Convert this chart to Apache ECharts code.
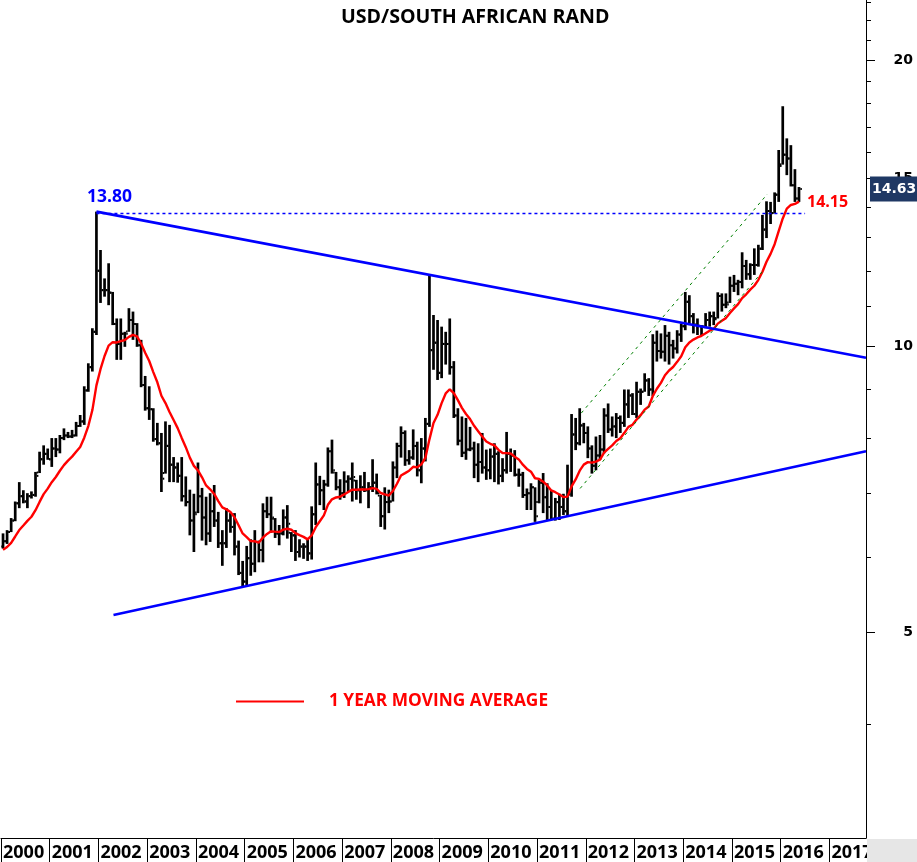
<!DOCTYPE html>
<html>
<head>
<meta charset="utf-8">
<title>USD/SOUTH AFRICAN RAND</title>
<script src="https://cdn.jsdelivr.net/npm/echarts@6/dist/echarts.min.js"></script>
<style>
  html, body { margin: 0; padding: 0; background: #fff; }
  #main { width: 917px; height: 862px; }
</style>
</head>
<body>
<div id="main"></div>
<script>
// monthly bars, Jan 2000 .. May 2016 (one row per year)
var startYear = 2000;
var opens = [
  6.15, 6.23, 6.37, 6.55, 6.83, 6.95, 6.86, 6.95, 6.97, 7.36, 7.60, 7.70,
  7.60, 7.80, 7.78, 8.00, 8.05, 8.03, 8.05, 8.24, 8.33, 8.98, 9.50, 10.35,
  12.00, 11.45, 11.45, 11.38, 10.55, 10.05, 10.30, 10.36, 10.65, 10.55, 10.02, 9.10,
  8.60, 8.58, 7.98, 7.90, 7.35, 7.85, 7.50, 7.45, 7.30, 6.95, 6.85, 6.55,
  6.68, 6.95, 6.60, 6.35, 6.70, 6.55, 6.20, 6.20, 6.55, 6.45, 6.15, 5.77,
  5.65, 5.98, 5.90, 6.22, 6.10, 6.70, 6.65, 6.58, 6.35, 6.35, 6.60, 6.36,
  6.32, 6.07, 6.15, 6.15, 6.05, 6.65, 7.15, 7.05, 7.15, 7.75, 7.36, 7.10,
  7.00, 7.20, 7.25, 7.22, 7.05, 7.10, 7.05, 7.10, 7.18, 6.96, 6.62, 6.85,
  6.86, 7.45, 7.85, 8.10, 7.58, 7.63, 7.85, 7.40, 7.80, 8.28, 9.90, 10.08,
  9.37, 10.05, 10.05, 9.50, 8.45, 7.95, 7.72, 7.78, 7.80, 7.50, 7.55, 7.45,
  7.40, 7.65, 7.70, 7.30, 7.40, 7.70, 7.67, 7.32, 7.32, 6.97, 7.00, 7.10,
  6.85, 7.18, 6.93, 6.77, 6.58, 6.85, 6.77, 6.70, 6.98, 8.07, 7.90, 8.25,
  8.10, 7.80, 7.48, 7.67, 7.78, 8.45, 8.17, 8.23, 8.40, 8.30, 8.68, 8.87,
  8.48, 8.95, 8.95, 9.20, 9.00, 10.08, 9.88, 9.86, 10.25, 10.02, 9.94, 10.28,
  10.49, 11.13, 10.75, 10.53, 10.50, 10.48, 10.65, 10.75, 10.70, 11.29, 11.05, 11.11,
  11.57, 11.63, 11.68, 12.14, 11.90, 12.17, 12.17, 12.66, 13.26, 13.87, 13.80, 14.43,
  15.53, 15.90, 15.75, 14.76, 14.30
];
var highs = [
  6.35, 6.40, 6.59, 6.86, 7.19, 7.05, 7.00, 7.03, 7.37, 7.74, 7.86, 7.80,
  8.00, 8.00, 8.06, 8.19, 8.12, 8.16, 8.32, 8.46, 9.07, 9.59, 10.44, 13.85,
  12.62, 11.78, 12.22, 11.40, 10.69, 10.69, 10.35, 10.96, 10.87, 10.57, 10.15, 9.30,
  9.07, 8.60, 8.30, 8.10, 8.33, 8.26, 7.64, 7.54, 7.64, 7.29, 7.06, 6.99,
  7.54, 7.09, 6.94, 7.00, 7.14, 6.69, 6.40, 6.75, 6.67, 6.67, 6.24, 5.94,
  6.16, 6.26, 6.40, 6.24, 6.83, 6.94, 6.94, 6.59, 6.48, 6.73, 6.80, 6.37,
  6.40, 6.26, 6.20, 6.28, 6.78, 7.54, 7.30, 7.23, 7.82, 7.97, 7.37, 7.24,
  7.38, 7.31, 7.54, 7.23, 7.31, 7.37, 7.19, 7.60, 7.34, 6.97, 7.10, 7.06,
  7.56, 7.91, 8.23, 8.15, 7.77, 8.17, 7.93, 8.00, 8.40, 11.88, 10.78, 10.65,
  10.48, 10.35, 10.69, 9.64, 8.60, 8.43, 8.40, 8.22, 7.93, 7.90, 8.10, 7.78,
  7.80, 7.90, 7.75, 7.62, 8.12, 7.80, 7.77, 7.43, 7.37, 7.08, 7.17, 7.10,
  7.23, 7.35, 7.17, 7.05, 6.92, 6.99, 6.99, 7.50, 8.48, 8.40, 8.60, 8.30,
  8.23, 7.86, 8.03, 8.06, 8.60, 8.70, 8.43, 8.50, 8.45, 9.00, 9.00, 8.92,
  9.17, 9.02, 9.36, 9.25, 10.29, 10.38, 10.31, 10.52, 10.35, 10.15, 10.39, 10.56,
  11.40, 11.31, 10.83, 10.69, 10.52, 10.83, 10.87, 10.87, 11.39, 11.36, 11.36, 11.83,
  11.88, 11.74, 12.55, 12.32, 12.22, 12.67, 12.78, 13.74, 14.20, 14.18, 14.51, 16.08,
  17.88, 16.54, 16.27, 15.35, 14.70
];
var lows = [
  6.12, 6.19, 6.37, 6.54, 6.75, 6.83, 6.75, 6.91, 6.94, 7.35, 7.50, 7.59,
  7.46, 7.64, 7.71, 7.96, 8.00, 8.00, 8.03, 8.22, 8.26, 8.95, 9.40, 10.27,
  11.10, 11.27, 11.04, 10.52, 9.67, 9.67, 9.98, 10.35, 10.15, 9.98, 9.05, 8.55,
  8.36, 7.93, 7.86, 7.02, 7.34, 7.19, 7.19, 7.18, 6.86, 6.78, 6.32, 6.07,
  6.67, 6.24, 6.17, 6.22, 6.45, 6.13, 5.87, 6.13, 6.36, 6.02, 5.74, 5.58,
  5.60, 5.73, 5.78, 5.92, 5.92, 6.59, 6.36, 6.28, 6.17, 6.32, 6.27, 6.07,
  5.94, 5.99, 5.97, 5.94, 5.96, 6.48, 6.80, 6.72, 7.11, 7.34, 7.05, 6.89,
  6.92, 7.02, 6.86, 6.89, 6.83, 7.02, 6.75, 7.02, 6.98, 6.45, 6.41, 6.67,
  6.86, 7.26, 7.63, 7.48, 7.50, 7.59, 7.29, 7.17, 7.56, 8.22, 9.44, 9.21,
  9.25, 9.56, 9.33, 8.40, 7.86, 7.64, 7.59, 7.75, 7.26, 7.19, 7.34, 7.23,
  7.24, 7.19, 7.15, 7.19, 7.34, 7.37, 7.29, 7.11, 6.92, 6.72, 6.72, 6.53,
  6.83, 6.67, 6.56, 6.56, 6.55, 6.56, 6.64, 6.62, 6.94, 7.77, 7.86, 7.90,
  7.62, 7.34, 7.40, 7.59, 7.71, 8.10, 8.03, 8.00, 8.10, 8.22, 8.40, 8.46,
  8.40, 8.67, 8.95, 8.86, 8.86, 9.63, 9.70, 9.63, 9.56, 9.70, 9.82, 10.10,
  10.39, 10.52, 10.31, 10.27, 10.27, 10.44, 10.48, 10.52, 10.69, 10.87, 10.96, 11.10,
  11.40, 11.31, 11.50, 11.74, 11.74, 11.88, 12.12, 12.62, 12.99, 13.44, 13.79, 14.18,
  15.52, 15.13, 14.72, 14.18, 14.18
];
var closes = [
  6.23, 6.37, 6.55, 6.83, 6.95, 6.86, 6.95, 6.97, 7.30, 7.60, 7.70, 7.60,
  7.80, 7.78, 8.00, 8.05, 8.03, 8.05, 8.24, 8.33, 8.98, 9.50, 10.35, 12.00,
  11.45, 11.45, 11.38, 10.55, 10.05, 10.30, 10.30, 10.65, 10.55, 10.02, 9.10, 8.60,
  8.58, 7.98, 7.90, 7.25, 7.85, 7.50, 7.45, 7.30, 6.95, 6.85, 6.55, 6.65,
  6.95, 6.60, 6.35, 6.70, 6.55, 6.20, 6.20, 6.55, 6.45, 6.15, 5.77, 5.65,
  5.98, 5.90, 6.22, 6.10, 6.70, 6.65, 6.60, 6.35, 6.35, 6.60, 6.50, 6.32,
  6.07, 6.15, 6.15, 6.05, 6.65, 7.15, 7.05, 7.15, 7.75, 7.40, 7.10, 7.00,
  7.20, 7.25, 7.28, 7.05, 7.10, 7.05, 7.10, 7.18, 7.00, 6.62, 6.85, 6.86,
  7.45, 7.85, 8.10, 7.58, 7.63, 7.85, 7.40, 7.80, 8.28, 9.90, 10.08, 9.37,
  10.05, 10.05, 9.50, 8.45, 7.95, 7.72, 7.78, 7.80, 7.50, 7.55, 7.45, 7.40,
  7.65, 7.70, 7.30, 7.40, 7.70, 7.67, 7.32, 7.32, 6.97, 7.00, 7.10, 6.62,
  7.18, 6.93, 6.77, 6.58, 6.85, 6.77, 6.70, 6.98, 8.07, 7.90, 8.25, 8.10,
  7.80, 7.48, 7.67, 7.78, 8.45, 8.17, 8.23, 8.40, 8.30, 8.68, 8.87, 8.48,
  8.95, 8.95, 9.20, 9.00, 10.08, 9.88, 9.86, 10.25, 10.02, 9.94, 10.28, 10.49,
  11.13, 10.75, 10.53, 10.50, 10.48, 10.65, 10.75, 10.67, 11.29, 11.05, 11.06, 11.57,
  11.63, 11.68, 12.14, 11.90, 12.17, 12.17, 12.66, 13.26, 13.87, 13.80, 14.43, 15.47,
  15.90, 15.75, 14.76, 14.30, 14.63
];

// 1 year (12 month) exponential average, seeded with the value at the left edge
var maPeriod = 12;
var maSeed = 6.08;
var maLastLabel = '14.15';
var lastLabel = '14.63';
var peakLabel = '13.80';

// trend lines: [month index, price] anchors
var upperTrend = [[23.5, 13.85], [213, 9.72]];
var lowerTrend = [[27.7, 5.21], [213, 7.75]];
var peakLevel = [[23.5, 13.80], [198.0, 13.80]];
var channelTop = [[142.9, 8.50], [188.7, 14.45]];
var channelBottom = [[142.6, 7.08], [187.8, 12.02]];

// price axis (log scale)
var yMinPrice = 3.035, yMaxPrice = 23.13;
var tickPrices = [4, 5, 6, 7, 8, 9, 10, 11, 12, 13, 14, 15, 16, 17, 18, 19, 20, 21, 22, 23];
var labelPrices = [5, 10, 15, 20];
var monthsShown = 213;

function lg(v) { return Math.log(v) / Math.LN10; }

var bars = [];
for (var i = 0; i < closes.length; i++) {
  bars.push([i + 0.5, lg(opens[i]), lg(highs[i]), lg(lows[i]), lg(closes[i])]);
}
var ma = [];
var e = maSeed, k = 2 / (maPeriod + 1);
for (var j = 0; j < closes.length; j++) {
  e = e + k * (closes[j] - e);
  ma.push([j + 0.5, lg(e)]);
}
function seg(p, style) {
  return [{ coord: [p[0][0], lg(p[0][1])], lineStyle: style }, { coord: [p[1][0], lg(p[1][1])] }];
}

function renderBar(params, api) {
  var x = api.value(0);
  var o = api.coord([x, api.value(1)]);
  var h = api.coord([x, api.value(2)]);
  var l = api.coord([x, api.value(3)]);
  var c = api.coord([x, api.value(4)]);
  var w = 2.7;
  return {
    type: 'group',
    children: [
      { type: 'rect', shape: { x: h[0] - w / 2, y: h[1], width: w, height: Math.max(l[1] - h[1], 1) }, style: { fill: '#000' } },
      { type: 'rect', shape: { x: o[0] - w / 2 - 1.5, y: o[1] - 1, width: 1.5, height: 2 }, style: { fill: '#000' } },
      { type: 'rect', shape: { x: c[0] + w / 2, y: c[1] - 1, width: 1.5, height: 2 }, style: { fill: '#000' } }
    ]
  };
}

var myChart = echarts.init(document.getElementById('main'));
var font = '"DejaVu Sans", Verdana, sans-serif';
var font2 = '"Open Sans", "DejaVu Sans", sans-serif';
var gridBox = { left: -3, right: 51, top: 0, bottom: 24 };
var option = {
  backgroundColor: '#fff',
  animation: false,
  title: {
    text: 'USD/SOUTH AFRICAN RAND',
    left: 341,
    top: 7,
    padding: 0,
    textStyle: { fontFamily: font2, fontWeight: 'bold', fontSize: 19.6, color: '#000' }
  },
  legend: {
    data: [{ name: '1 YEAR MOVING AVERAGE', icon: 'rect' }],
    left: 236,
    top: 693,
    padding: 0,
    itemWidth: 68,
    itemHeight: 2.2,
    textStyle: { fontFamily: font2, fontWeight: 'bold', fontSize: 17.3, color: '#ff0000', padding: [0, 0, 0, 20] }
  },
  grid: [gridBox, gridBox],
  xAxis: [{
    type: 'value',
    gridIndex: 0,
    min: 0,
    max: monthsShown,
    interval: 12,
    splitLine: { show: false },
    axisLine: { onZero: false, lineStyle: { color: '#000', width: 1 } },
    axisTick: { show: true, length: 24, lineStyle: { color: '#000' } },
    axisLabel: {
      showMaxLabel: false,
      align: 'left',
      margin: 6,
      padding: [0, 0, 0, 2],
      fontFamily: font2,
      fontWeight: 'bold',
      fontSize: 18,
      color: '#000',
      formatter: function (v) { return String(startYear + v / 12); }
    }
  }, {
    type: 'value',
    gridIndex: 1,
    min: 0,
    max: monthsShown,
    show: false
  }],
  yAxis: [{
    type: 'value',
    gridIndex: 0,
    position: 'right',
    min: lg(yMinPrice),
    max: lg(yMaxPrice),
    splitLine: { show: false },
    axisLine: { show: true, onZero: false, lineStyle: { color: '#000', width: 1 } },
    axisTick: { show: true, length: 5, customValues: tickPrices.map(lg), lineStyle: { color: '#000' } },
    axisLabel: { show: false }
  }, {
    type: 'value',
    gridIndex: 1,
    position: 'right',
    min: lg(yMinPrice),
    max: lg(yMaxPrice),
    splitLine: { show: false },
    axisLine: { show: false, onZero: false },
    axisTick: { show: true, length: 9, customValues: labelPrices.map(lg), lineStyle: { color: '#000' } },
    axisLabel: {
      customValues: labelPrices.map(lg),
      align: 'right',
      margin: 47,
      fontFamily: font,
      fontWeight: 'bold',
      fontSize: 14,
      color: '#000',
      formatter: function (v) { return String(Math.round(Math.pow(10, v))); }
    }
  }],
  series: [{
    name: 'bars',
    type: 'custom',
    renderItem: renderBar,
    data: bars,
    encode: { x: 0, y: [1, 2, 3, 4] },
    clip: true,
    z: 2
  }, {
    name: '1 YEAR MOVING AVERAGE',
    type: 'line',
    data: ma,
    symbol: 'none',
    showSymbol: false,
    itemStyle: { color: '#ff0000' },
    lineStyle: { color: '#ff0000', width: 2.4 },
    z: 4,
    markPoint: {
      silent: true,
      symbol: 'rect',
      symbolSize: 0,
      label: { show: true, position: 'right', distance: 8, formatter: maLastLabel, color: '#ff0000', fontFamily: font2, fontWeight: 'bold', fontSize: 16 },
      data: [{ coord: [closes.length - 0.5, lg(parseFloat(maLastLabel))] }]
    }
  }, {
    name: 'trend',
    type: 'line',
    data: [],
    z: 3,
    markLine: {
      silent: true,
      symbol: ['none', 'none'],
      label: { show: false },
      data: [
        seg(upperTrend, { color: '#0000ff', width: 2.6, type: 'solid' }),
        seg(lowerTrend, { color: '#0000ff', width: 2.6, type: 'solid' }),
        seg(peakLevel, { color: '#0000ff', width: 1.4, type: [3, 3] }),
        seg(channelTop, { color: '#008000', width: 1, type: [3, 4] }),
        seg(channelBottom, { color: '#008000', width: 1, type: [3, 4] })
      ]
    },
    markPoint: {
      silent: true,
      symbol: 'rect',
      symbolSize: 0,
      data: [{
        coord: [peakLevel[0][0], lg(peakLevel[0][1])],
        label: { show: true, position: 'top', distance: 3, offset: [13, -4], formatter: peakLabel, color: '#0000ff', fontFamily: font2, fontWeight: 'bold', fontSize: 17.5 }
      }, {
        coord: [monthsShown, lg(closes[closes.length - 1])],
        label: {
          show: true,
          position: 'right',
          distance: 4,
          formatter: lastLabel,
          backgroundColor: '#1f3864',
          color: '#fff',
          fontFamily: font,
          fontWeight: 'bold',
          fontSize: 14,
          padding: [6, 2, 5, 2]
        }
      }]
    }
  }],
  graphic: [{
    type: 'rect',
    right: 0,
    bottom: 0,
    z: 100,
    shape: { width: 50, height: 23 },
    style: { fill: '#e6e6e6' }
  }]
};
myChart.setOption(option);
</script>
</body>
</html>
